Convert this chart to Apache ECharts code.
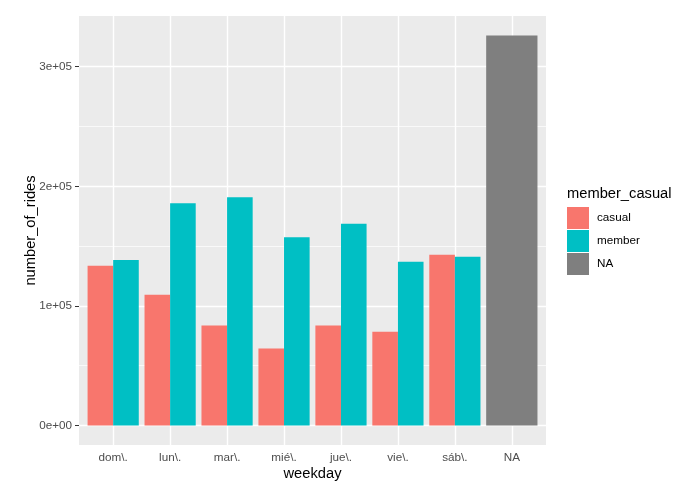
<!DOCTYPE html>
<html>
<head>
<meta charset="utf-8">
<script src="https://cdn.jsdelivr.net/npm/echarts@6/dist/echarts.min.js"></script>
<style>
  html, body { margin: 0; padding: 0; background: #fff; }
  #main { width: 684px; height: 484px; }
</style>
</head>
<body>
<div id="main"></div>
<script>
// weekday categories (x axis)
var weekdays = ['dom\\.', 'lun\\.', 'mar\\.', 'mié\\.', 'jue\\.', 'vie\\.', 'sáb\\.', 'NA'];
// rides per weekday
var casualRides = [133600, 109400, 83600, 64400, 83600, 78300, 142700];
var memberRides = [138300, 185800, 190800, 157500, 168600, 136900, 141100];
var naRides = [326100];
// y ticks
var yTicks = [0, 100000, 200000, 300000];
var yTickLabels = ['0e+00', '1e+05', '2e+05', '3e+05'];
var yMinor = [50000, 150000, 250000];

var font = 'Liberation Sans, Arial, sans-serif';
var xPos = weekdays.map(function (d, i) { return i + 1; });

// ggplot style limits (5% expansion / 0.6 on discrete)
var yMax = naRides[0] * 1.05;
var yMin = -naRides[0] * 0.05;

// panel grid lines (white), drawn under the bars
var gridLines = [];
yTicks.forEach(function (v) {
    gridLines.push({ yAxis: v, lineStyle: { width: 1.4 } });
});
yMinor.forEach(function (v) {
    gridLines.push({ yAxis: v, lineStyle: { width: 0.7 } });
});
xPos.forEach(function (v) {
    gridLines.push({ xAxis: v, lineStyle: { width: 1.4 } });
});

var myChart = echarts.init(document.getElementById('main'));

var option = {
    backgroundColor: '#ffffff',
    animation: false,
    title: {
        text: 'member_casual',
        left: 567,
        top: 186,
        padding: 0,
        textStyle: { color: '#000', fontSize: 14.7, fontWeight: 'normal', fontFamily: font }
    },
    legend: {
        orient: 'vertical',
        left: 567,
        top: 207,
        padding: 0,
        itemWidth: 22,
        itemHeight: 22,
        itemGap: 1,
        icon: 'rect',
        data: ['casual', 'member', 'NA'],
        textStyle: { color: '#000', fontSize: 11.7, fontFamily: font, padding: [0, 0, 0, 3] }
    },
    grid: {
        left: 79,
        top: 16,
        right: 138,
        bottom: 39,
        show: true,
        backgroundColor: '#EBEBEB',
        borderWidth: 0,
        containLabel: false,
        outerBoundsMode: 'none'
    },
    xAxis: [
        {
            type: 'value',
            min: 0.4,
            max: 8.6,
            axisLine: { show: false },
            splitLine: { show: false },
            axisTick: { show: true, customValues: xPos, length: 4, lineStyle: { color: '#333333', width: 1 } },
            axisLabel: {
                customValues: xPos,
                margin: 7,
                color: '#4D4D4D',
                fontSize: 11.7,
                fontFamily: font,
                formatter: function (v) { return weekdays[Math.round(v) - 1]; }
            },
            name: 'weekday',
            nameLocation: 'middle',
            nameGap: 21,
            nameMoveOverlap: false,
            nameTextStyle: { color: '#000', fontSize: 14.7, fontFamily: font }
        },
        { type: 'value', min: 0.4, max: 8.6, show: false }
    ],
    yAxis: {
        type: 'value',
        min: yMin,
        max: yMax,
        axisLine: { show: false },
        splitLine: { show: false },
        axisTick: { show: true, customValues: yTicks, length: 4, lineStyle: { color: '#333333', width: 1 } },
        axisLabel: {
            customValues: yTicks,
            margin: 7,
            color: '#4D4D4D',
            fontSize: 11.7,
            fontFamily: font,
            formatter: function (v) { return yTickLabels[yTicks.indexOf(v)]; }
        },
        name: 'number_of_rides',
        nameLocation: 'middle',
        nameGap: 41,
        nameMoveOverlap: false,
        nameTextStyle: { color: '#000', fontSize: 14.7, fontFamily: font }
    },
    series: [
        {
            name: 'casual',
            type: 'bar',
            xAxisIndex: 0,
            barWidth: 25.6,
            barGap: '0%',
            itemStyle: { color: '#F8766D' },
            data: casualRides.map(function (v, i) { return [i + 1, v]; })
        },
        {
            name: 'member',
            type: 'bar',
            xAxisIndex: 0,
            barWidth: 25.6,
            barGap: '0%',
            itemStyle: { color: '#00BFC4' },
            data: memberRides.map(function (v, i) { return [i + 1, v]; })
        },
        {
            name: 'NA',
            type: 'bar',
            xAxisIndex: 1,
            barWidth: 51.3,
            itemStyle: { color: '#7F7F7F' },
            data: naRides.map(function (v, i) { return [casualRides.length + 1 + i, v]; }),
            markLine: {
                z: 1,
                silent: true,
                symbol: ['none', 'none'],
                label: { show: false },
                lineStyle: { color: '#ffffff', type: 'solid' },
                data: gridLines
            }
        }
    ]
};
myChart.setOption(option);
</script>
</body>
</html>
